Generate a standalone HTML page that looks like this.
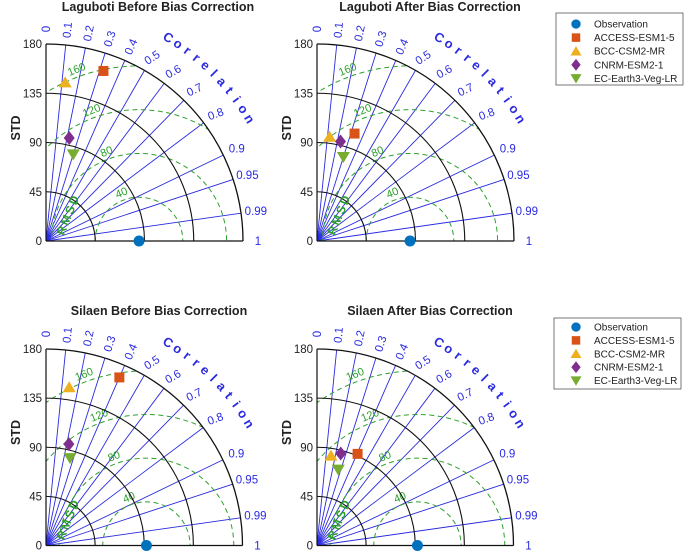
<!DOCTYPE html>
<html><head><meta charset="utf-8"><style>
html,body{margin:0;background:#fff;overflow:hidden;width:685px;height:553px;}
svg{display:block;font-family:"Liberation Sans",sans-serif;}
</style></head><body>
<svg id="chart" width="685" height="553" viewBox="0 0 685 553"></svg>
<script>
const panelTitles = ["Laguboti Before Bias Correction","Laguboti After Bias Correction","Silaen Before Bias Correction","Silaen After Bias Correction"];
const obsStd = [85, 85, 92, 92];
const modelNames = ["ACCESS-ESM1-5","BCC-CSM2-MR","CNRM-ESM2-1","EC-Earth3-Veg-LR"];
const modelStd = [[164,146,96.5,83],[104,96,93.4,80.4],[168,146.5,95.2,83],[91.8,83.3,87,72.2]];
const modelCorr = [[0.32,0.12,0.22,0.30],[0.33,0.12,0.23,0.30],[0.40,0.145,0.22,0.265],[0.405,0.154,0.25,0.27]];
const stdTicks = [0,45,90,135,180];
const corrTicks = [0,0.1,0.2,0.3,0.4,0.5,0.6,0.7,0.8,0.9,0.95,0.99,1];
const corrLabels = ["0","0.1","0.2","0.3","0.4","0.5","0.6","0.7","0.8","0.9","0.95","0.99","1"];
const rmsdTicks = [40,80,120,160];

const NS="http://www.w3.org/2000/svg";
const svg=document.getElementById('chart');
const colors=["#D95319","#EDB120","#7E2F8E","#77AC30"];
const shapes=["square","triangle","diamond","down"];
function el(tag,attrs,parent){const e=document.createElementNS(NS,tag);for(const k in attrs)e.setAttribute(k,attrs[k]);(parent||svg).appendChild(e);return e;}
function marker(shape,cx,cy,col,g){
  let e;
  if(shape==="circle")e=el('circle',{cx:cx,cy:cy,r:5.5,fill:"#0072BD"},g);
  else if(shape==="square")e=el('rect',{x:cx-5,y:cy-5,width:10,height:10,fill:col},g);
  else if(shape==="triangle")e=el('polygon',{points:`${cx},${cy-6} ${cx-6.5},${cy+5} ${cx+6.5},${cy+5}`,fill:col},g);
  else if(shape==="diamond")e=el('polygon',{points:`${cx},${cy-7} ${cx-5.5},${cy} ${cx},${cy+7} ${cx+5.5},${cy}`,fill:col},g);
  else e=el('polygon',{points:`${cx},${cy+6} ${cx-6.5},${cy-5} ${cx+6.5},${cy-5}`,fill:col},g);
  return e;
}
const origins=[[46,241],[317,241],[46,545.5],[317,545.5]];
const titleX=[158,430,159,430], titleY=[11,11,315,315];
const STDMAX=180;
origins.forEach((o,p)=>{
  const R=p<2?197:196.5;
  const s=R/STDMAX;
  const ox=o[0],oy=o[1];
  const X=(std,c)=>ox+std*s*c;
  const Y=(std,c)=>oy-std*s*Math.sqrt(1-c*c);
  const g=el('g',{});
  
  
  const t=el('text',{x:titleX[p],y:titleY[p],'text-anchor':'middle','font-size':12.5,'font-weight':'bold',fill:'#222'},g);
  t.textContent=panelTitles[p];
  
  
  const cid='clip'+p;
  const cp=el('clipPath',{id:cid},g);
  el('path',{d:`M${ox},${oy} L${ox+R},${oy} A${R},${R} 0 0 0 ${ox},${oy-R} Z`},cp);
  corrTicks.forEach(c=>{
    if(c===0||c===1)return;
    const ln=el('line',{x1:ox,y1:oy,x2:X(STDMAX,c),y2:Y(STDMAX,c),stroke:'#2a2ae0','stroke-width':0.9},g);
    
    
  });
  const rg=el('g',{'clip-path':`url(#${cid})`},g);
  rmsdTicks.forEach(r=>{
    const c=el('circle',{cx:ox+obsStd[p]*s,cy:oy,r:r*s,fill:'none',stroke:'#2ca02c','stroke-width':1,'stroke-dasharray':'5,3.5'},rg);
    
    
  });
  rmsdTicks.forEach(r=>{
    const a=110*Math.PI/180, rr=r*s+8;
    const lx=ox+obsStd[p]*s+rr*Math.cos(a), ly=oy-rr*Math.sin(a);
    const tx=el('text',{x:lx,y:ly+4,'text-anchor':'middle','font-size':11,fill:'#2ca02c',transform:`rotate(-22 ${lx} ${ly})`},g);
    tx.textContent=r;
    
    
  });
  stdTicks.forEach(v=>{
    if(v===0)return;
    const r=v*s;
    const a=el('path',{d:`M${ox+r},${oy} A${r},${r} 0 0 0 ${ox},${oy-r}`,fill:'none',stroke:'#111','stroke-width':v===STDMAX?1.3:1.1},g);
    
    
    const tl=el('text',{x:ox-4,y:oy-r+4,'text-anchor':'end','font-size':11.5,fill:'#222'},g);
    tl.textContent=v;
    
    
  });
  const z=el('text',{x:ox-4,y:oy+4,'text-anchor':'end','font-size':11.5,fill:'#222'},g);z.textContent='0';
  
  
  el('line',{x1:ox,y1:oy,x2:ox,y2:oy-R,stroke:'#111','stroke-width':1.2},g);
  el('line',{x1:ox,y1:oy,x2:ox+R,y2:oy,stroke:'#111','stroke-width':1.2},g);
  const sl=el('text',{x:0,y:0,'text-anchor':'middle','font-size':12.5,'font-weight':'bold',fill:'#222',transform:`translate(${ox-26},${oy-113}) rotate(-90)`},g);
  sl.textContent='STD';
  
  
  corrTicks.forEach((c,i)=>{
    const ang=Math.acos(c)*180/Math.PI;
    const rr=R+15;
    const lx=X(rr/s,c), ly=Y(rr/s,c);
    let rot= c<=0.45 ? -ang : (c<0.85 ? -ang*0.55 : 0);
    const tx=el('text',{x:lx,y:ly+4,'text-anchor':'middle','font-size':11.5,fill:'#2a2ae0',transform:`rotate(${rot} ${lx} ${ly})`},g);
    tx.textContent=corrLabels[i];
    
    
  });
  const word="Correlation";
  for(let i=0;i<word.length;i++){
    const ang=(59-i*2.8)*Math.PI/180, rr=R+40;
    const lx=ox+rr*Math.cos(ang), ly=oy-rr*Math.sin(ang);
    const tx=el('text',{x:lx,y:ly+4,'text-anchor':'middle','font-size':13,'font-weight':'bold',fill:'#2a2ae0',transform:`rotate(${90-(59-i*2.8)} ${lx} ${ly})`},g);
    tx.textContent=word[i];
    
    
  }
  const rw=el('text',{x:0,y:0,'text-anchor':'middle','font-size':12,'font-weight':'bold',fill:'#2ca02c','letter-spacing':'2',transform:`translate(${ox+26},${oy-25}) rotate(-68)`},g);
  rw.textContent='RMSD';
  
  
  const ob=marker('circle',ox+obsStd[p]*s,oy,null,g);
  
  
  modelStd[p].forEach((v,k)=>{
    const m=marker(shapes[k],X(v,modelCorr[p][k]),Y(v,modelCorr[p][k]),colors[k],g);
    
    
  });
});
const legendNames=["Observation"].concat(modelNames);
const legShapes=["circle"].concat(shapes);
const legCols=["#0072BD"].concat(colors);
[[556,13,72,24,13.6],[554,318,71,327,13.4]].forEach((L,li)=>{
  const g=el('g',{});
  
  
  el('rect',{x:L[0],y:L[1],width:127,height:L[2],fill:'#fff',stroke:'#555','stroke-width':0.8},g);
  legendNames.forEach((n,i)=>{
    const y=L[3]+i*L[4];
    const m=marker(legShapes[i],576,y,legCols[i],g);
    m.setAttribute('transform',`translate(576 ${y}) scale(0.85) translate(-576 ${-y})`);
    
    
    const tx=el('text',{x:594,y:y+3.5,'font-size':10,fill:'#222'},g);
    tx.textContent=n;
    
    
  });
});
</script>
</body></html>
